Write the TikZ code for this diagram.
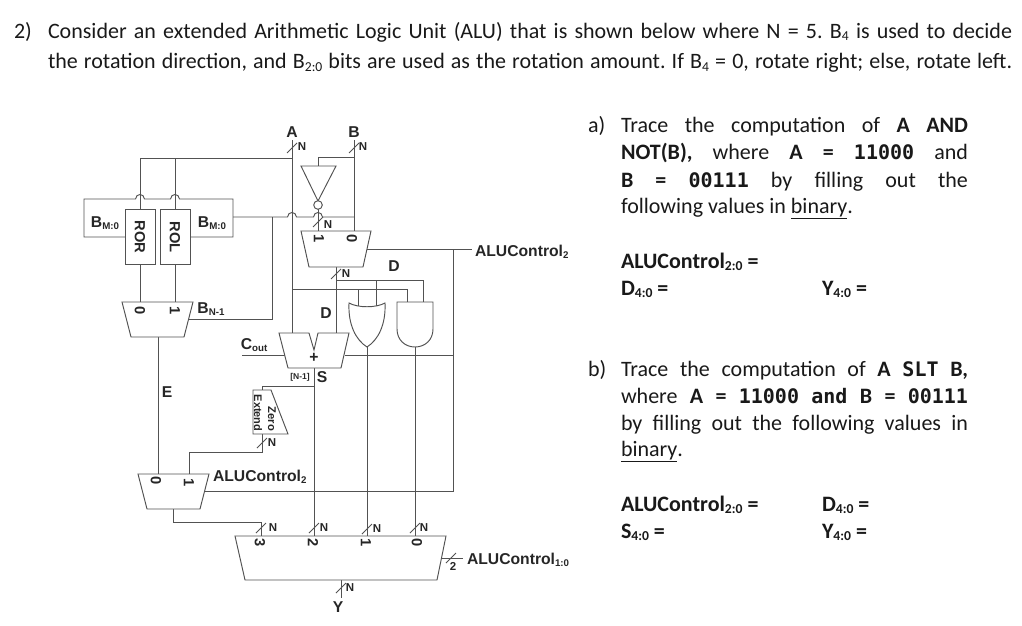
\documentclass[tikz,border=0pt]{standalone}
\usepackage{fontspec}
\usepackage{graphicx}
\setmainfont{Carlito}
\newfontfamily\diagf{Liberation Sans}
\newfontfamily\monof{DejaVu Sans Mono}
\newcommand{\lowtxt}[2][0.62]{\raisebox{-0.28ex}{\scalebox{#1}{#2}}}
\newcommand{\cod}[1]{{\monof\bfseries\fontsize{20}{22}\selectfont #1}}
\frenchspacing
\tikzset{
  wire/.style={draw=black!68,line width=0.95pt,line join=miter},
  part/.style={draw=black!68,line width=0.95pt,fill=white},
  lab/.style={font=\diagf\bfseries\fontsize{15.7}{17}\selectfont,text=black!85,inner sep=0pt,outer sep=0pt},
  dig/.style={lab,rotate=-90,font=\diagf\bfseries\fontsize{14.7}{16}\selectfont},
  nlab/.style={lab,font=\diagf\bfseries\fontsize{11.5}{13}\selectfont},
  txt/.style={anchor=base west,inner sep=0pt,outer sep=0pt,font=\fontsize{22}{24}\selectfont,text=black!90},
  bus/.style={wire,line width=0.85pt}
}
\begin{document}
\begin{tikzpicture}[x=1pt,y=-1pt]
\useasboundingbox (0,0) rectangle (1022,626);
% ---- named points
\coordinate (Atop) at (292,140);
\coordinate (Btop) at (354,140);
\coordinate (Ajoin) at (292,158);
\coordinate (Bjoin) at (354,157);
\coordinate (Invin) at (318,166);
\coordinate (Bub) at (318,205);
\coordinate (M3a) at (318,231);
\coordinate (M3b) at (354,231);
\coordinate (M3out) at (336,267);
\coordinate (M3ctl) at (367,249);
\coordinate (AddA) at (292,333);
\coordinate (AddB) at (336,333);
\coordinate (AddOut) at (314,368);
\coordinate (AddCl) at (284.6,355);
\coordinate (AddCr) at (344.5,355);
\coordinate (Cend) at (242,355);
\coordinate (Ctl) at (453,355);
\coordinate (CtlT) at (453,249);
\coordinate (CtlB) at (453,491);
\coordinate (CtlEnd) at (472,249);
\coordinate (RORtop) at (140,209);
\coordinate (ROLtop) at (175,209);
\coordinate (RORbot) at (140,264);
\coordinate (ROLbot) at (175,264);
\coordinate (M1a) at (140,302);
\coordinate (M1b) at (175,302);
\coordinate (M1out) at (158,337);
\coordinate (M1ctl) at (188.6,319);
\coordinate (Tap) at (272,217);
\coordinate (M2a) at (158,474);
\coordinate (M2b) at (189,474);
\coordinate (M2out) at (173,509);
\coordinate (M2ctl) at (204.6,491);
\coordinate (ZeIn) at (262,390);
\coordinate (ZeOut) at (262,434);
\coordinate (Alu3) at (261,536);
\coordinate (Alu2) at (314,536);
\coordinate (Alu1) at (367,536);
\coordinate (Alu0) at (415,536);
\coordinate (AluOut) at (341,580);
\coordinate (YEnd) at (341,598);
\coordinate (AluCtl) at (441.5,558);
\coordinate (AluCtlEnd) at (463,558);
\coordinate (OrOut) at (367,347);
\coordinate (AndOut) at (415,347);
\coordinate (OrA) at (358,306);
\coordinate (OrB) at (376,306);
\coordinate (AndA) at (407,302);
\coordinate (AndB) at (423,302);
% ---- wires
\draw[wire] (Atop) -- (AddA);
\draw[wire] (Btop) -- (M3b);
\draw[wire] (Ajoin) -- (140,158) -- (RORtop);
\draw[wire] (175,158) -- (ROLtop);
\draw[wire] (Bjoin) -- (Invin |- Bjoin) -- (Invin);
\draw[wire] (Bub) -- (M3a);
\draw[wire] (125,237) -- (84,237) -- (84,199) -- (135.5,199)
  .. controls (136,193) and (144,193) .. (144.5,199) -- (170.5,199)
  .. controls (171,193) and (179,193) .. (179.5,199) -- (233,199) -- (233,237) -- (190,237);
\draw[wire] (233,217) -- (287.5,217)
  .. controls (288,211) and (296,211) .. (296.5,217) -- (313.5,217)
  .. controls (314,211) and (322,211) .. (322.5,217) -- (354,217);
\draw[wire] (Tap) |- (M1ctl);
\draw[wire] (RORbot) -- (M1a);
\draw[wire] (ROLbot) -- (M1b);
\draw[wire] (M1out) -- (M2a);
\draw[wire] (M3out) -- (AddB);
\draw[wire] (336,280) -| (AndB);
\draw[wire] (376,280) -- (OrB);
\draw[wire] (292,289) -| (AndA);
\draw[wire] (OrA) -- (358,289);
\draw[wire] (Cend) -- (AddCl);
\draw[wire] (AddCr) -- (Ctl);
\draw[wire] (M3ctl) -- (CtlEnd);
\draw[wire] (CtlT) -- (CtlB) -- (M2ctl);
\draw[wire] (AddOut) -- (Alu2);
\draw[wire] (314,386) -| (ZeIn);
\draw[wire] (ZeOut) -- (262,452) -- (189,452) -- (M2b);
\draw[wire] (M2out) -- (173,522) -- (261,522) -- (Alu3);
\draw[wire] (OrOut) -- (Alu1);
\draw[wire] (AndOut) -- (Alu0);
\draw[wire] (AluOut) -- (YEnd);
\draw[wire] (AluCtl) -- (AluCtlEnd);
% ---- parts
\draw[part] (125,209) rectangle (155.5,264);
\draw[part] (160,209) rectangle (190,264);
\draw[part] (122,302) -- (193,302) -- (184,337) -- (131,337) -- cycle;
\draw[part] (138,474) -- (209,474) -- (200,509) -- (147,509) -- cycle;
\draw[part] (301,231) -- (371,231) -- (363,267) -- (309,267) -- cycle;
\draw[part] (279,333) -- (309,333) -- (314,350) -- (318,333) -- (349,333) -- (341,368) -- (288,368) -- cycle;
\draw[part] (235,536) -- (446,536) -- (437,580) -- (245,580) -- cycle;
\draw[part] (253,390) -- (271,390) -- (288,434) -- (253,434) -- cycle;
\draw[part] (301,166) -- (336,166) -- (318,201) -- cycle;
\draw[part] (Bub) circle[radius=4.3];
\draw[part] (349,303) .. controls (358,308) and (376,308) .. (385,303)
  .. controls (386,325) and (378,340) .. (OrOut)
  .. controls (356,340) and (348,325) .. (349,303) -- cycle;
\draw[part] (397,302) -- (433,302) -- (433,329)
  .. controls (433,340) and (425,347) .. (AndOut)
  .. controls (405,347) and (397,340) .. (397,329) -- cycle;
% ---- bus slashes
\draw[bus] (287,153) -- (297,143);
\draw[bus] (349,153) -- (359,143);
\draw[bus] (313,227) -- (323,217);
\draw[bus] (331,279) -- (341,269);
\draw[bus] (257,448) -- (267,438);
\draw[bus] (256,533) -- (266,523);
\draw[bus] (309,533) -- (319,523);
\draw[bus] (362,534) -- (372,524);
\draw[bus] (410,533) -- (420,523);
\draw[bus] (336,593) -- (346,583);
\draw[bus] (446,563) -- (456,553);
% ---- diagram labels
\node[lab] (lA) at (292,132) {A};
\node[lab] (lB) at (354,132) {B};
\node[nlab] (n1) at (302,147) {N};
\node[nlab] (n2) at (363,147) {N};
\node[nlab] (n3) at (328,225) {N};
\node[nlab] (n4) at (346,274) {N};
\node[nlab] (n5) at (272,443) {N};
\node[nlab] (n6) at (273,528) {N};
\node[nlab] (n7) at (324,528) {N};
\node[nlab] (n8) at (377,529) {N};
\node[nlab] (n9) at (424,528) {N};
\node[nlab] (n10) at (350,588) {N};
\node[nlab] (n11) at (453,566) {2};
\node[lab] (bml) at (105,223) {B\lowtxt{M:0}};
\node[lab] (bmr) at (212,223) {B\lowtxt{M:0}};
\node[dig] (ror) at (140,237) {ROR};
\node[dig] (rol) at (175,237) {ROL};
\node[lab] (bn) at (211,309) {B\lowtxt{N-1}};
\node[lab] (cout) at (254,345) {C\lowtxt{out}};
\node[lab] (d1) at (394,266) {D};
\node[lab] (d2) at (326,313) {D};
\node[lab,anchor=west] (ctl2a) at (475,252) {ALUControl\lowtxt{2}};
\node[lab,anchor=west] (ctl2b) at (213,477) {ALUControl\lowtxt{2}};
\node[lab,anchor=west] (ctl10) at (467,560) {ALUControl\lowtxt{1:0}};
\node[lab] (e) at (167,392) {E};
\node[lab] (s) at (322,377) {S};
\node[nlab,font=\diagf\bfseries\fontsize{8.5}{9}\selectfont] (n1b) at (300,377) {[N-1]};
\node[lab] (y) at (338,607) {Y};
\node[lab] (plus) at (314,358) {+};
\node[dig] (m10) at (140,311) {0};
\node[dig] (m11) at (175,311) {1};
\node[dig] (m30) at (352,239) {0};
\node[dig] (m31) at (319,239) {1};
\node[dig] (m20) at (156,481) {0};
\node[dig] (m21) at (189,483) {1};
\node[dig] (a3) at (260,543) {3};
\node[dig] (a2) at (313,543) {2};
\node[dig] (a1) at (366,543) {1};
\node[dig] (a0) at (417,543) {0};
\node[dig,font=\diagf\bfseries\fontsize{11}{12}\selectfont] (ext) at (258,413) {Extend};
\node[dig,font=\diagf\bfseries\fontsize{11.2}{12}\selectfont] (zero) at (272,419) {Zero};
% ---- question text
\node[txt] (q) at (14,38) {2)};
\node[txt] (t1) at (48,38) {\makebox[964pt][s]{Consider an extended Arithmetic Logic Unit (ALU) that is shown below where N = 5. B\lowtxt{4} is used to decide}};
\node[txt] (t2) at (48,69) {\makebox[964pt][s]{the rotation direction, and B\lowtxt{2:0} bits are used as the rotation amount. If B\lowtxt{4} = 0, rotate right; else, rotate left.}};
\node[txt] (pa) at (588,132) {a)};
\node[txt] (a1l) at (621,132) {\makebox[347pt][s]{Trace the computation of \textbf{A AND}}};
\node[txt] (a2l) at (621,159) {\makebox[347pt][s]{\textbf{NOT(B),} where \textbf{A} \textbf{=} \cod{11000} and}};
\node[txt] (a3l) at (621,187) {\makebox[347pt][s]{\textbf{B} \textbf{=} \cod{00111} by filling out the}};
\node[txt] (a4l) at (621,213) {following values in \underline{binary}.};
\node[txt] (a5l) at (621,268) {\textbf{ALUControl\lowtxt{2:0} =}};
\node[txt] (a6l) at (621,295) {\textbf{D\lowtxt{4:0} =}};
\node[txt] (a7l) at (822,295) {\textbf{Y\lowtxt{4:0} =}};
\node[txt] (pb) at (588,376) {b)};
\node[txt] (b1l) at (621,376) {\makebox[347pt][s]{Trace the computation of \textbf{A} \cod{SLT} \textbf{B,}}};
\node[txt] (b2l) at (621,403) {\makebox[347pt][s]{where \textbf{A} \textbf{=} \cod{11000} \cod{and} \textbf{B} \textbf{=} \cod{00111}}};
\node[txt] (b3l) at (621,430) {\makebox[347pt][s]{by filling out the following values in}};
\node[txt] (b4l) at (621,456) {\underline{binary}.};
\node[txt] (b5l) at (621,511) {\textbf{ALUControl\lowtxt{2:0} =}};
\node[txt] (b6l) at (822,511) {\textbf{D\lowtxt{4:0} =}};
\node[txt] (b7l) at (621,538) {\textbf{S\lowtxt{4:0} =}};
\node[txt] (b8l) at (822,538) {\textbf{Y\lowtxt{4:0} =}};
\end{tikzpicture}
\end{document}
